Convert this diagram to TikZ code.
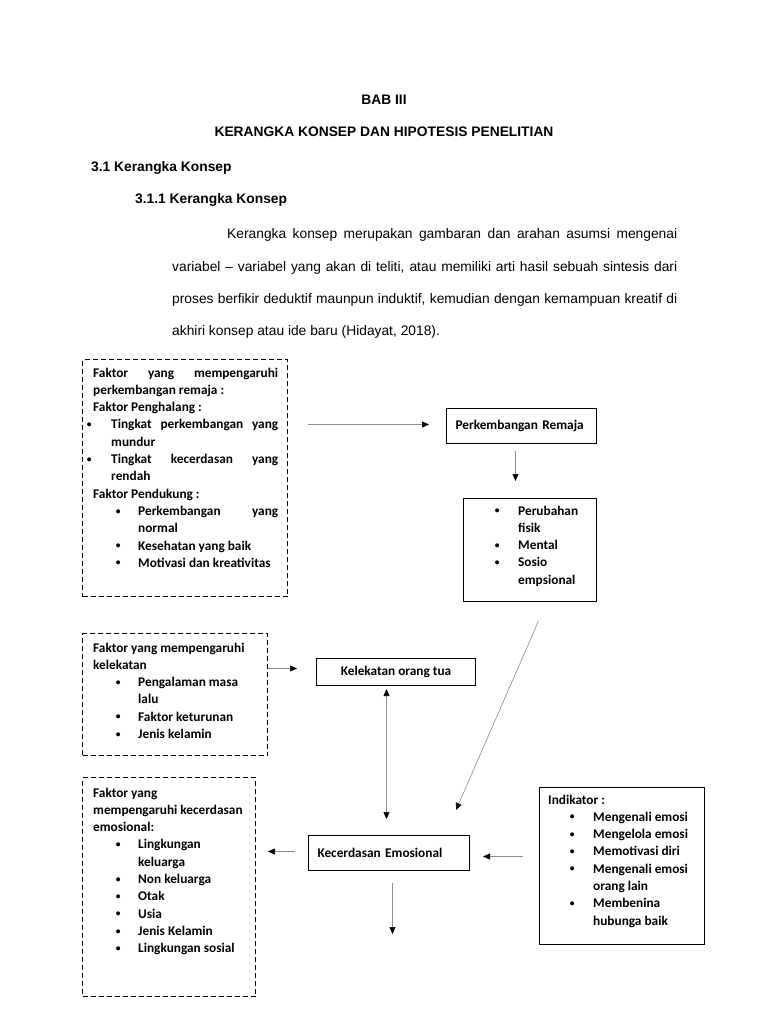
\documentclass[tikz,border=0pt]{standalone}
\usepackage{fontspec}
\setmainfont{Liberation Sans}
\newfontfamily\boxfont{Carlito}
\usetikzlibrary{arrows.meta,calc}
% list line helpers (offsets relative to node x)
\newcommand\bul{\raisebox{1.4pt}{\fontsize{9.5}{9.5}\selectfont\textbullet}}
\newcommand\PL[2]{\hbox{\kern#1pt #2}}
\newcommand\JL[3]{\hbox{\kern#1pt\makebox[#2pt][s]{#3}}}
\newcommand\BL[3]{\hbox{\rlap{\kern\dimexpr #1pt-2.4pt\relax\bul}\kern#2pt #3}}
\newcommand\BJ[4]{\hbox{\rlap{\kern\dimexpr #1pt-2.4pt\relax\bul}\kern#2pt\makebox[#3pt][s]{#4}}}
\tikzset{
  doc/.style={anchor=base west, inner sep=0pt, font=\fontsize{13.8}{16}\selectfont},
  head/.style={anchor=base, inner sep=0pt, font=\fontsize{13.8}{16}\selectfont\bfseries},
  dbox/.style={draw, line width=1pt, dash pattern=on 5pt off 3pt, anchor=north west, inner sep=0pt},
  sbox/.style={draw, line width=1pt, anchor=north west, inner sep=0pt},
  lbl/.style={sbox, font=\boxfont\bfseries\fontsize{13.3}{17.3}\selectfont},
  list/.style={anchor=base west, inner sep=0pt, font=\boxfont\bfseries\fontsize{13.3}{17.3}\selectfont},
  arr/.style={draw=black!45, line width=0.6pt, -{Triangle[length=7pt,width=6pt,color=black]}},
  darr/.style={draw=black!45, line width=0.6pt, {Triangle[length=7pt,width=6pt,color=black]}-{Triangle[length=7pt,width=6pt,color=black]}},
}
\begin{document}
\begin{tikzpicture}[x=1pt,y=-1pt]
\fill[white] (0,0) rectangle (768,1024);
\useasboundingbox (0,0) rectangle (768,1024);

% headings and paragraph
\node[head] (h1) at (384,105) {BAB III};
\node[head] (h2) at (384,137) {KERANGKA KONSEP DAN HIPOTESIS PENELITIAN};
\node[doc,font=\fontsize{13.8}{16}\selectfont\bfseries] (h3) at (91,172) {3.1 Kerangka Konsep};
\node[doc,font=\fontsize{13.8}{16}\selectfont\bfseries] (h4) at (135,204) {3.1.1 Kerangka Konsep};
\node[doc] (p1) at (227,238) {\makebox[450pt][s]{Kerangka konsep merupakan gambaran dan arahan asumsi mengenai}};
\node[doc] (p2) at (172,271) {\makebox[505pt][s]{variabel -- variabel yang akan di teliti, atau memiliki arti hasil sebuah sintesis dari}};
\node[doc] (p3) at (172,303) {\makebox[505pt][s]{proses berfikir deduktif maunpun induktif, kemudian dengan kemampuan kreatif di}};
\node[doc] (p4) at (172,335) {akhiri konsep atau ide baru (Hidayat, 2018).};

% box 1
\node[dbox, minimum width=205pt, minimum height=237pt] (b1) at (82,359) {};
\node[list] (t1) at (93,377) {\vtop{%
\JL{0}{185}{Faktor yang mempengaruhi}
\PL{0}{perkembangan remaja :}
\PL{0}{Faktor Penghalang :}
\BJ{-4}{18}{167}{Tingkat perkembangan yang}
\PL{18}{mundur}
\BJ{-4}{18}{167}{Tingkat kecerdasan yang}
\PL{18}{rendah}
\PL{0}{Faktor Pendukung :}
\BJ{25}{45}{140}{Perkembangan yang}
\PL{45}{normal}
\BL{25}{45}{Kesehatan yang baik}
\BL{25}{45}{Motivasi dan kreativitas}}};

% Perkembangan Remaja
\node[lbl, minimum width=150pt, minimum height=35pt, text width=132pt, align=left, inner xsep=9pt] (pr) at (446,408) {Perkembangan Remaja};

% bullet box
\node[sbox, minimum width=133pt, minimum height=103pt] (bb) at (463,498) {};
\node[list] (tb) at (470,515) {\vtop{%
\BL{27}{48}{Perubahan}
\PL{48}{fisik}
\BL{27}{48}{Mental}
\BL{27}{48}{Sosio}
\PL{48}{empsional}}};

% box 2
\node[dbox, minimum width=185pt, minimum height=122pt] (b2) at (82,633) {};
\node[list] (t2) at (93,652) {\vtop{%
\PL{0}{Faktor yang mempengaruhi}
\PL{0}{kelekatan}
\BL{25}{45}{Pengalaman masa}
\PL{45}{lalu}
\BL{25}{45}{Faktor keturunan}
\BL{25}{45}{Jenis kelamin}}};

% Kelekatan orang tua
\node[lbl, minimum width=159pt, minimum height=27pt, align=center] (kel) at (316,658) {Kelekatan orang tua};

% box 3
\node[dbox, minimum width=173pt, minimum height=219pt] (b3) at (82,777) {};
\node[list] (t3) at (93,797) {\vtop{%
\PL{0}{Faktor yang}
\PL{0}{mempengaruhi kecerdasan}
\PL{0}{emosional:}
\BL{25}{45}{Lingkungan}
\PL{45}{keluarga}
\BL{25}{45}{Non keluarga}
\BL{25}{45}{Otak}
\BL{25}{45}{Usia}
\BL{25}{45}{Jenis Kelamin}
\BL{25}{45}{Lingkungan sosial}}};

% Kecerdasan Emosional
\node[lbl, minimum width=161pt, minimum height=35pt, text width=143pt, align=left, inner xsep=9pt] (kec) at (308,835) {Kecerdasan Emosional};

% Indikator box
\node[sbox, minimum width=165pt, minimum height=157pt] (ind) at (539,787) {};
\node[list] (ti) at (548,804) {\vtop{%
\PL{0}{Indikator :}
\BL{24}{45}{Mengenali emosi}
\BL{24}{45}{Mengelola emosi}
\BL{24}{45}{Memotivasi diri}
\BL{24}{45}{Mengenali emosi}
\PL{45}{orang lain}
\BL{24}{45}{Membenina}
\PL{45}{hubunga baik}}};

% connectors
\draw[arr, shorten <=20pt, shorten >=17pt] ($(b1.east |- pr.west)+(0,-1.5)$) -- ($(pr.west)+(0,-1.5)$);
\coordinate (pa) at ($(pr.south)+(-6,0)$);
\draw[arr, shorten <=7pt, shorten >=17pt] (pa) -- (pa |- bb.north);
\draw[arr, shorten >=19pt] ($(b2.east |- kel.west)+(0,-3.5)$) -- ($(kel.west)+(0,-3.5)$);
\coordinate (k1) at ($(kel.south)+(-9.5,0)$);
\draw[darr, shorten <=3pt, shorten >=16pt] (k1) -- (k1 |- kec.north);
\coordinate (dg1) at ($(bb.south)+(8.5,19)$);
\coordinate (dg2) at ($(kec.north east)+(-14,-25)$);
\draw[arr] (dg1) -- (dg2);
\draw[arr, shorten <=13pt, shorten >=12pt] ($(kec.west)+(0,-1.5)$) -- ($(kec.west -| b3.east)+(0,-1.5)$);
\coordinate (kd1) at ($(kec.south)+(3.5,12)$);
\coordinate (kd2) at ($(kec.south)+(3.5,63)$);
\draw[arr] (kd1) -- (kd2);
\draw[arr, shorten <=16pt, shorten >=13pt] ($(ind.west |- kec.east)+(0,3.5)$) -- ($(kec.east)+(0,3.5)$);
\end{tikzpicture}
\end{document}
